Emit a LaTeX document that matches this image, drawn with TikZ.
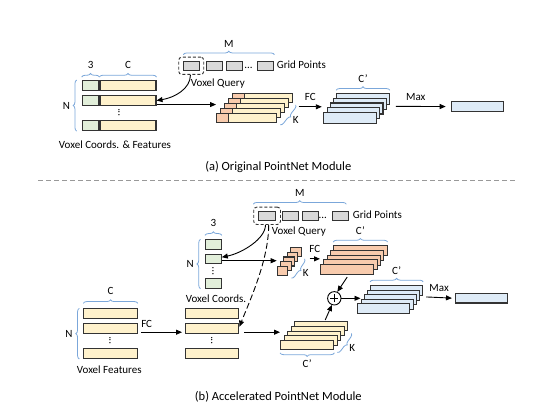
\documentclass[tikz,border=0pt]{standalone}
\usepackage{fontspec}
\setmainfont{Carlito}
\usepackage{tikz}
\usetikzlibrary{positioning,arrows.meta,decorations.pathreplacing}
\definecolor{linec}{HTML}{333333}
\definecolor{beigec}{HTML}{FFF2CC}
\definecolor{peachc}{HTML}{F8CBAD}
\definecolor{greenc}{HTML}{E2EFDA}
\definecolor{bluec}{HTML}{DEEBF7}
\definecolor{grayc}{HTML}{D9D9D9}
\definecolor{bracec}{HTML}{7BA7DA}
\newcommand{\capfont}{\fontsize{12.5}{14}\selectfont}
\newcommand{\vdotstext}{\rotatebox{90}{...}}

\begin{document}
\begin{tikzpicture}[x=1pt, y=-1pt, font=\fontsize{11}{13}\selectfont,
    cell/.style={draw=linec, line width=1.1pt, inner sep=0pt, anchor=north west},
    qbox/.style={draw=linec, line width=0.9pt, dash pattern=on 3pt off 2pt, rounded corners=3pt, inner sep=0pt, anchor=north west},
    brace/.style={draw=bracec, line width=0.8pt, decorate, decoration={brace, amplitude=3.5pt}},
    arr/.style={draw=black, line width=0.9pt, -{Triangle[length=6pt,width=5pt]}},
    klabel/.style={midway, anchor=north west, inner sep=0pt, xshift=4.5pt, yshift=-1pt},
    dotsv/.style={inner sep=0pt}]

\useasboundingbox (0,0) rectangle (546,417);

% ---------------- (a) original module ----------------
% voxel coords & features
\foreach \r/\y in {1/80,2/95,3/120} {
    \node[cell, fill=greenc, minimum width=16.6pt, minimum height=10pt] (ag\r) at (81.7,\y) {};
    \node[cell, fill=beigec, minimum width=56pt, minimum height=10pt] (af\r) at (ag\r.north east) {};
}
\node[dotsv] (adots) at (119,112.5) {\vdotstext};
\draw[brace] ([yshift=3pt]ag1.north west) -- ([yshift=3pt]ag1.north east) node[midway, above=4.5pt] {3};
\draw[brace] ([yshift=3pt]af1.north west) -- ([yshift=3pt]af1.north east) node[midway, above=4.5pt] {C};
\draw[brace] ([xshift=-5pt]ag3.south west) -- ([xshift=-5pt]ag1.north west) node[midway, left=3pt] {N};
\node (acf) at (115,145) {Voxel Coords. \& Features};

% grid points
\foreach \k/\x in {1/183.3,2/206,3/226,4/257.3}
    \node[cell, fill=grayc, minimum width=16pt, minimum height=9.5pt] (ap\k) at (\x,60.7) {};
\node[anchor=base] (apdots) at (248.5,68.5) {...};
\node[qbox, minimum width=25pt, minimum height=17.3pt] (aq) at (178.3,56.7) {};
\node[anchor=west, inner sep=0pt] (agp) at (276.7,65) {Grid Points};
\node[anchor=west, inner sep=0pt] (avq) at (190.7,84) {Voxel Query};
\draw[brace] ([yshift=6pt]ap1.north west) -- ([yshift=6pt]ap4.north east) node[midway, above=3.5pt] {M};

% grouped features (K x (3+C))
\foreach \i in {4,3,2,1,0} {
    \node[cell, fill=beigec, minimum width=60pt, minimum height=9pt] (ak\i) at (216+3.9*\i, 112.7-5*\i) {};
    \node[cell, fill=peachc, minimum width=12pt, minimum height=9pt] at (ak\i.north west) {};
}
\draw[brace] ([shift={(3pt,-2pt)}]ak4.south east) -- ([shift={(3pt,-2pt)}]ak0.south east) node[klabel] {K};

% after FC
\foreach \i in {4,3,2,1,0}
    \node[cell, fill=bluec, minimum width=52.7pt, minimum height=11pt] (ab\i) at (323.3+3.2*\i, 111.7-4.6*\i) {};
\draw[brace] ([yshift=3pt]ab4.north west) -- ([yshift=3pt]ab4.north east) node[midway, above=3.5pt] {C'};
\node[cell, fill=bluec, minimum width=52pt, minimum height=10pt] (outa) at (450.7,101) {};

% arrows
\draw[arr] (aq.-95) .. controls +(0,14) and +(18,-3) .. (af2.east);
\coordinate (a1) at ([yshift=-4pt]af2.east);
\draw[arr] (a1) -- (a1 -| ak0.west);
\coordinate (fca) at ([shift={(6pt,-4pt)}]ak4.south east);
\draw[arr] (fca) -- ([xshift=-1.5pt]fca -| ab0.west) node[midway, above=2pt] {FC};
\coordinate (mxa) at ([shift={(6pt,-7pt)}]ab4.east);
\draw[arr] (mxa) -- ([xshift=-5pt]outa.west) node[midway, above=2pt, xshift=-5pt] {Max};

\node[font=\capfont] (capa) at (278.3,166.7) {(a) Original PointNet Module};
\draw[draw=black!40, line width=1.2pt, dash pattern=on 5pt off 3pt] (38.3,180.7) -- (515,180.7);

% ---------------- (b) accelerated module ----------------
% grid points
\foreach \k/\x in {1/258.3,2/281.7,3/301.7,4/331.7}
    \node[cell, fill=grayc, minimum width=16.5pt, minimum height=9.3pt] (bp\k) at (\x,210.7) {};
\node[anchor=base] (bpdots) at (322.7,218.5) {...};
\node[qbox, minimum width=26.7pt, minimum height=17.3pt] (bq) at (253.3,206.7) {};
\node[anchor=west, inner sep=0pt] (bgp) at (352.7,215) {Grid Points};
\node[anchor=west, inner sep=0pt] (bvq) at (271.7,231.7) {Voxel Query};
\draw[brace] ([yshift=2.5pt]bq.north west) -- ([shift={(-3pt,6.5pt)}]bp4.north east) node[midway, above=3.5pt] {M};

% voxel coords
\foreach \r/\y in {1/239.3,2/254,3/278.3}
    \node[cell, fill=greenc, minimum width=15.7pt, minimum height=9.3pt] (bg\r) at (205,\y) {};
\node[dotsv] (bgdots) at (213,271) {\vdotstext};
\draw[brace] ([yshift=4pt]bg1.north west) -- ([yshift=4pt]bg1.north east) node[midway, above=4.5pt] {3};
\draw[brace] ([xshift=-4.5pt]bg3.south west) -- ([xshift=-4.5pt]bg1.north west) node[midway, left=3pt] {N};
\node (bvc) at (216,298.5) {Voxel Coords.};

% voxel features, before and after FC
\foreach \r/\y in {1/308.3,2/323.3,3/348.3} {
    \node[cell, fill=beigec, minimum width=53.4pt, minimum height=9.7pt] (bx\r) at (83.3,\y) {};
    \node[cell, fill=beigec, minimum width=53.3pt, minimum height=9.7pt] (by\r) at (185,\y) {};
}
\node[dotsv] (bxdots) at (110,340.5) {\vdotstext};
\node[dotsv] (bydots) at (211.7,340.5) {\vdotstext};
\draw[brace] ([yshift=5pt]bx1.north west) -- ([yshift=5pt]bx1.north east) node[midway, above=4.5pt] {C};
\draw[brace] ([xshift=-4pt]bx3.south west) -- ([xshift=-4pt]bx1.north west) node[midway, left=3pt] {N};
\node (bvf) at (109.3,369.3) {Voxel Features};

% grouped coords (K x 3)
\foreach \i in {4,3,2,1,0}
    \node[cell, fill=peachc, minimum width=10.6pt, minimum height=9pt] (bs\i) at (276.7+3.3*\i, 266-4.8*\i) {};
\draw[brace] ([shift={(3pt,-2pt)}]bs4.south east) -- ([shift={(3pt,-2pt)}]bs0.south east) node[klabel] {K};

% grouped coords after FC
\foreach \i in {4,3,2,1,0}
    \node[cell, fill=peachc, minimum width=53.3pt, minimum height=10pt] (bo\i) at (320+3.3*\i, 264-4.75*\i) {};
\draw[brace] ([yshift=3pt]bo4.north west) -- ([yshift=3pt]bo4.north east) node[midway, above=3.5pt] {C'};

% grouped features
\foreach \i in {4,3,2,1,0}
    \node[cell, fill=beigec, minimum width=53.3pt, minimum height=9.3pt] (be\i) at (280+3.5*\i, 340-4.75*\i) {};
\draw[brace] ([shift={(3pt,-2pt)}]be4.south east) -- ([shift={(3pt,-2pt)}]be0.south east) node[klabel] {K};
\draw[brace] ([yshift=-2.5pt]be0.south east) -- ([yshift=-2.5pt]be0.south west) node[midway, below=3.5pt] {C'};

% sum and max
\node[circle, draw=black, line width=0.9pt, minimum size=13.4pt, inner sep=0pt] (plus) at (334.3,298.3) {};
\draw[line width=0.9pt] ([xshift=-4pt]plus.center) -- ([xshift=4pt]plus.center)
    ([yshift=-4pt]plus.center) -- ([yshift=4pt]plus.center);
\foreach \i in {4,3,2,1,0}
    \node[cell, fill=bluec, minimum width=52pt, minimum height=10pt] (bb\i) at (357.3+3.2*\i, 303.3-4.6*\i) {};
\draw[brace] ([yshift=3pt]bb4.north west) -- ([yshift=3pt]bb4.north east) node[midway, above=3.5pt] {C'};
\node[cell, fill=bluec, minimum width=52pt, minimum height=9.7pt] (outb) at (455,292.7) {};

% arrows
\draw[arr] (bq.-100) .. controls +(0,14) and +(20,-4) .. ([yshift=2pt]bg2.east);
\draw[arr, dash pattern=on 6pt off 3pt] (bq.-80) .. controls +(0,35) and +(10,-25) .. ([yshift=2pt]by2.east);
\coordinate (gs) at ([yshift=-1.5pt]bg2.east);
\draw[arr] (gs) -- (gs -| bs0.west);
\coordinate (fcb) at ([shift={(8pt,-7pt)}]bs4.east);
\draw[arr] (fcb) -- (fcb -| bo0.west) node[midway, above=2pt] {FC};
\draw[arr] ([shift={(3pt,-3.5pt)}]bx2.east) -- ([shift={(-3pt,-3.5pt)}]by2.west) node[pos=0, anchor=south west, inner sep=0pt, yshift=4pt] {FC};
\coordinate (bz) at ([shift={(5pt,-3.5pt)}]by2.east);
\draw[arr] (bz) -- (bz -| be0.west);
\draw[arr] ([shift={(4pt,1pt)}]be4.north) -- (plus.-110);
\draw[arr] ([yshift=-2pt]bo0.south) -- (plus.65);
\draw[arr] (plus.east) -- (plus.east -| bb1.west);
\coordinate (mxb) at ([shift={(3pt,-6.5pt)}]bb4.east);
\draw[arr] (mxb) -- ([xshift=-3pt]outb.west) node[midway, above=2pt] {Max};

\node[font=\capfont] (capb) at (278.3,396.7) {(b) Accelerated PointNet Module};
\end{tikzpicture}
\end{document}
